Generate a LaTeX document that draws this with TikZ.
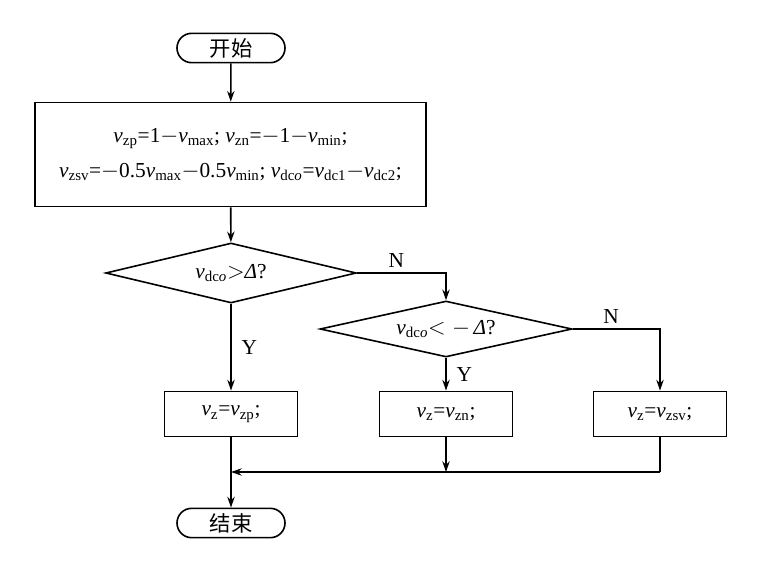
\documentclass[tikz,border=0pt]{standalone}
\usepackage{fontspec}
\setmainfont{Liberation Serif}
\newfontfamily\cjk{Noto Sans CJK SC}
\usetikzlibrary{shapes.geometric,arrows.meta}
\newcommand{\vv}[1]{\textit{v}\textsubscript{#1}}
\begin{document}
\begin{tikzpicture}[x=0.75pt,y=-0.75pt,line width=1.2pt,
  every node/.style={font=\fontsize{16}{18}\selectfont},
  term/.style={draw,rounded corners=11pt,minimum width=81pt,minimum height=22pt},
  box/.style={draw,minimum width=100pt,minimum height=34pt},
  dia/.style={draw,diamond,aspect=4.2,inner sep=0pt,minimum width=188pt,minimum height=45pt},
  ar/.style={-{Stealth[length=8pt,width=5.5pt]}},
  ln/.style={}]
\fill[white] (0,0) rectangle (766,574);
\node[term] (s) at (231,48) {\cjk 开始};
\node[draw,minimum width=293pt,minimum height=78pt,align=center] (init) at (230.5,154.5)
 {\vv{zp}=1$-$\vv{max}; \vv{zn}=$-$1$-$\vv{min};\\[8pt]
  \vv{zsv}=$-$0.5\vv{max}$-$0.5\vv{min}; \vv{dc\textit{o}}=\vv{dc1}$-$\vv{dc2};};
\node[dia] (d1) at (231,273) {\vv{dc\textit{o}}$>$\textit{Δ}?};
\node[dia,minimum width=189pt,minimum height=42pt] (d2) at (446,329) {\vv{dc\textit{o}}$<-$\,\textit{Δ}?};
\node[box] (b1) at (231,414) {\vv{z}=\vv{zp};};
\node[box] (b2) at (446,414) {\vv{z}=\vv{zn};};
\node[box] (b3) at (660,414) {\vv{z}=\vv{zsv};};
\node[term] (e) at (231,523) {\cjk 结束};
\coordinate (m1) at (660,472);
\coordinate (m2) at (446,472);
\coordinate (m0) at (231,472);
\draw[ar] (s) -- (init);
\draw[ar] (init) -- (d1);
\draw[ar] (d1.east) -| node[pos=0.22,above]{N} (d2.north);
\draw[ar] (d2.east) -| node[pos=0.22,above]{N} (b3.north);
\draw[ar] (d1.south) -- node[pos=0.5,right=4pt]{Y} (b1.north);
\draw[ar] (d2.south) -- node[pos=0.5,right=4pt]{Y} (b2.north);
\draw[ln] (b3.south) -- (m1);
\draw[ar] (m1) -- (m0);
\draw[ar] (b2.south) -- (m2);
\draw[ar] (b1.south) -- (e);
\end{tikzpicture}
\end{document}
